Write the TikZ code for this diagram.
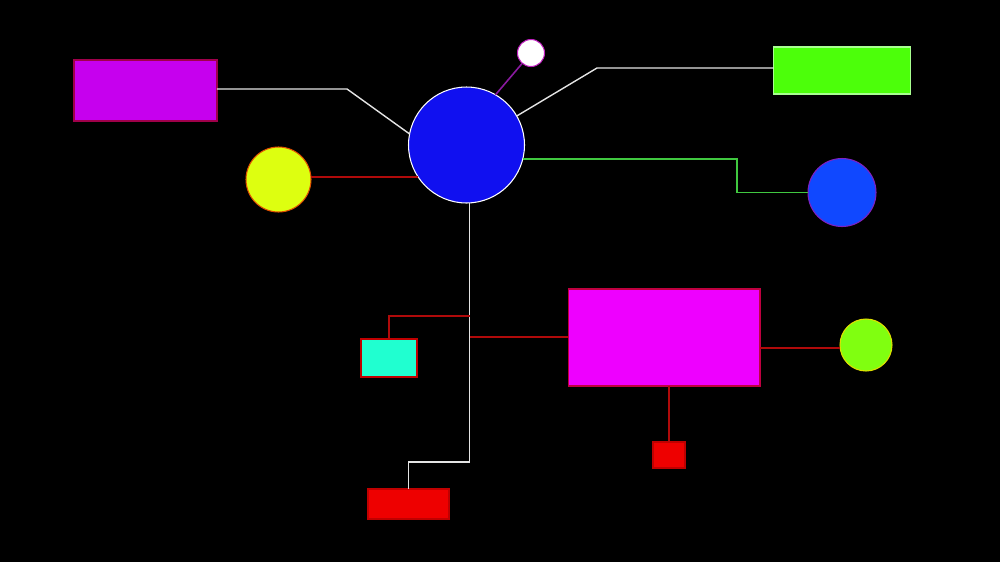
\documentclass[tikz,border=0pt]{standalone}
\begin{document}
\begin{tikzpicture}[x=0.02cm,y=-0.02cm,
  box/.style={draw,rectangle,inner sep=0pt,outer sep=0pt,line width=0.6pt},
  disc/.style={draw,circle,inner sep=0pt,outer sep=0pt,line width=0.6pt},
  wline/.style={draw=lightwire,line width=0.8pt},
  rline/.style={draw=darkwire,line width=0.9pt},
  gline/.style={draw=greenwire,line width=0.8pt},
  pline/.style={draw=purplewire,line width=0.9pt}]
\definecolor{lightwire}{HTML}{E4E4E4}
\definecolor{darkwire}{HTML}{B00A0A}
\definecolor{greenwire}{HTML}{40C840}
\definecolor{purplewire}{HTML}{8A1AA0}
\definecolor{cPurple}{HTML}{C600EE}
\definecolor{cPurpleB}{HTML}{A0004A}
\definecolor{cBig}{HTML}{1010F0}
\definecolor{cWhiteB}{HTML}{C020C0}
\definecolor{cGreen}{HTML}{4CFF0A}
\definecolor{cGreenB}{HTML}{A8FF90}
\definecolor{cYellow}{HTML}{DDFF10}
\definecolor{cYellowB}{HTML}{E05000}
\definecolor{cBlue}{HTML}{1048FF}
\definecolor{cBlueB}{HTML}{8020C0}
\definecolor{cCyan}{HTML}{20FFD0}
\definecolor{cRedB}{HTML}{C00000}
\definecolor{cMag}{HTML}{EE00FF}
\definecolor{cMagB}{HTML}{C00040}
\definecolor{cLime}{HTML}{80FF10}
\definecolor{cLimeB}{HTML}{E0E000}
\definecolor{cRed}{HTML}{EE0000}
\useasboundingbox (0,0) rectangle (1000,562);
\fill[black] (0,0) rectangle (1000,562);
% nodes
\node[box,fill=cPurple,draw=cPurpleB,minimum width=2.86cm,minimum height=1.22cm] (pr) at (145.5,90.5) {};
\node[disc,fill=cBig,draw=white,minimum size=2.32cm] (big) at (466.5,145) {};
\node[disc,fill=white,draw=cWhiteB,minimum size=0.54cm] (wc) at (531,53) {};
\node[box,fill=cGreen,draw=cGreenB,minimum width=2.74cm,minimum height=0.94cm] (gr) at (842,70.5) {};
\node[disc,fill=cYellow,draw=cYellowB,minimum size=1.3cm] (yc) at (278.5,179.5) {};
\node[disc,fill=cBlue,draw=cBlueB,minimum size=1.36cm] (bc) at (842,192.5) {};
\node[box,fill=cCyan,draw=cRedB,minimum width=1.12cm,minimum height=0.76cm] (cy) at (389,358) {};
\node[box,fill=cMag,draw=cMagB,minimum width=3.84cm,minimum height=1.94cm] (mg) at (664,337.5) {};
\node[disc,fill=cLime,draw=cLimeB,minimum size=1.04cm] (lm) at (866,345) {};
\node[box,fill=cRed,draw=cRedB,minimum width=0.64cm,minimum height=0.52cm] (sr) at (669,455) {};
\node[box,fill=cRed,draw=cRedB,minimum width=1.62cm,minimum height=0.6cm] (rr) at (408.5,504) {};
% bend coordinates
\coordinate (b1) at (347,89);
\coordinate (b2) at (597,68);
\coordinate (gx) at (737,0);
\coordinate (wy) at (0,462);
\coordinate (j1) at (470,316);
\coordinate (ry) at (0,177);
\coordinate (my) at (0,337);
\coordinate (ly) at (0,348);
% connectors
\draw[wline] (pr.east |- b1) -- (b1) -- (big.169);
\draw[pline] (big.60) -- (wc);
\draw[wline] (big.30) -- (b2) -- (b2 -| gr.west);
\draw[rline] (yc.east |- ry) -- (big.213 |- ry);
\draw[gline] (big.346) -- (big.346 -| gx) |- (bc.west);
\draw[wline] (big.273) -- (big.273 |- wy) -| (rr.north);
\draw[rline] (j1) -| (cy.north);
\draw[rline] (j1 |- my) -- (mg.west |- my);
\draw[rline] (lm.west |- ly) -- (mg.east |- ly);
\draw[rline] (sr.north) -- (sr.north |- mg.south);
\end{tikzpicture}
\end{document}
